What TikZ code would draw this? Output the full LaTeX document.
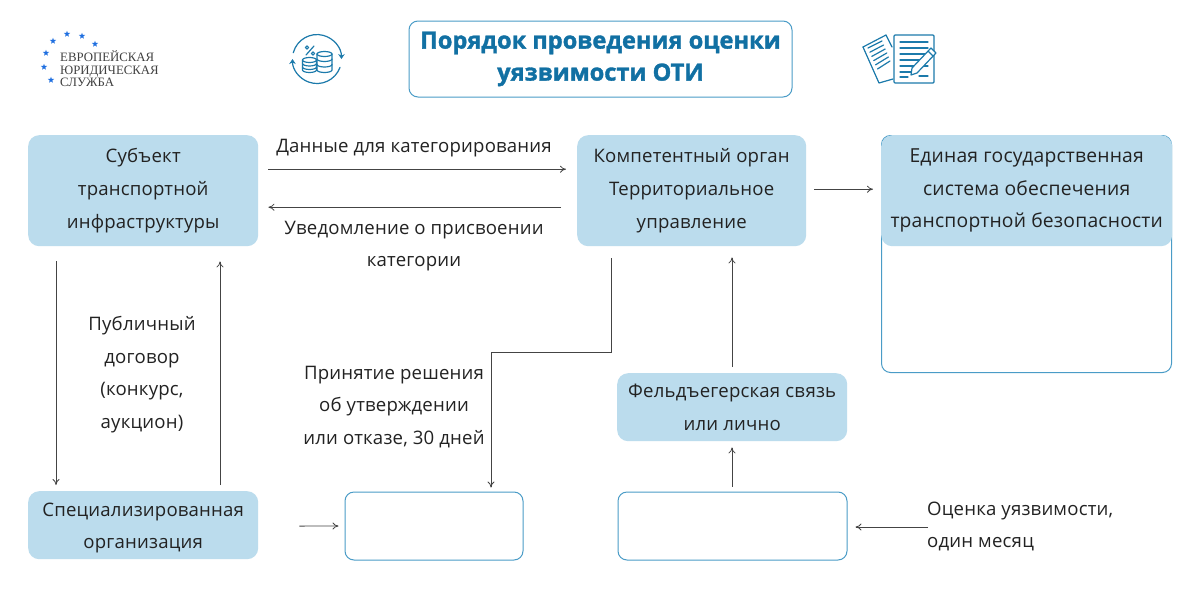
\documentclass[tikz,border=0pt]{standalone}
\usepackage{fontspec}
\setmainfont{Open Sans}[LetterSpace=1]
\newfontfamily\logofont{Liberation Serif}
\newfontfamily\titlefont{Open Sans Bold}[FakeBold=1.5]
\usetikzlibrary{shapes.geometric,arrows.meta,calc}
\definecolor{fillblue}{HTML}{BBDCED}
\definecolor{lineblue}{HTML}{4A9CC7}
\definecolor{titleblue}{HTML}{1170A3}
\definecolor{iconblue}{HTML}{1C7AAB}
\definecolor{starblue}{HTML}{1F6FE0}
\definecolor{txt}{HTML}{222222}
\definecolor{arr}{HTML}{444444}
\tikzset{
  x=1pt,y=-1pt,
  every node/.style={font=\fontsize{18.6}{32.6}\selectfont,text=txt,align=center,inner sep=0pt},
  filled/.style={fill=fillblue,draw=none,rounded corners=11pt,anchor=north west},
  outlined/.style={draw=lineblue,line width=1pt,fill=white,rounded corners=9pt,anchor=north west},
  conn/.style={draw=arr,line width=0.8pt,-{To[length=6pt,width=7pt]}},
  icon/.style={draw=iconblue,line width=1.2pt,line cap=round,line join=round},
  logostar/.style={star,star points=5,star point ratio=2.4,fill=starblue,minimum size=6.5pt,inner sep=0pt,draw=none},
  titlestyle/.style={font=\titlefont\fontsize{23.6}{32}\selectfont,text=titleblue},
  logostyle/.style={font=\logofont\fontsize{12.8}{12.5}\selectfont,text=black!75,align=left,anchor=north west},
  widetext/.style={font=\fontsize{19.3}{32.6}\selectfont},
}
\begin{document}
\begin{tikzpicture}
\useasboundingbox (0,0) rectangle (1200,600);
\fill[white] (0,0) rectangle (1200,600);

% outline behind the top-right box
\node[outlined,minimum width=290pt,minimum height=237pt] (ebig) at (881,135) {};
\node[filled,widetext,minimum width=291pt,minimum height=111pt] (e) at (881,135) {Единая государственная\\система обеспечения\\транспортной безопасности};

\node[outlined,titlestyle,minimum width=383pt,minimum height=76pt] (title) at (408.5,20.5)
 {Порядок проведения оценки\\уязвимости ОТИ};

\node[filled,minimum width=230pt,minimum height=111pt] (s) at (28,135) {Субъект\\транспортной\\инфраструктуры};
\node[filled,minimum width=229pt,minimum height=111pt] (k) at (577,135) {Компетентный орган\\Территориальное\\управление};
\node[filled,minimum width=230pt,minimum height=68pt] (f) at (617,373) {Фельдъегерская связь\\или лично};
\node[filled,minimum width=230pt,minimum height=68pt] (o) at (28,491) {\rule{0pt}{19pt}Специализированная\\организация};
\node[outlined,minimum width=178pt,minimum height=68pt] (b1) at (344.5,491.5) {};
\node[outlined,minimum width=229pt,minimum height=68pt] (b2) at (617.5,491.5) {};

% labels
\node (l1) at (414,148) {Данные для категорирования};
\node (l2) at (414,246) {Уведомление о присвоении\\категории};
\node (l3) at (142,374.5) {Публичный\\договор\\(конкурс,\\аукцион)};
\node (l4) at (394,407) {Принятие решения\\об утверждении\\или отказе, 30 дней};
\node[align=left,anchor=west] (l5) at (927,526.5) {Оценка уязвимости,\\один месяц};

% connectors
\draw[conn,shorten <=10pt,shorten >=11pt] ([yshift=21.5pt]s.east) -- ([yshift=21.5pt]k.west);
\draw[conn,shorten <=16pt,shorten >=10pt] ([yshift=-16.5pt]k.west) -- ([yshift=-16.5pt]s.east);
\draw[conn,shorten <=8pt,shorten >=8pt] ([yshift=1.5pt]k.east) -- ([yshift=1.5pt]e.west);
\draw[conn,shorten <=15pt,shorten >=6pt] (s.south -| 56,0) -- (o.north -| 56,0);
\draw[conn,shorten <=6pt,shorten >=15pt] (o.north -| 220,0) -- (s.south -| 220,0);
\draw[conn,shorten <=41pt,shorten >=6pt] ([yshift=-1pt]o.east) -- (b1.west);
\draw[conn,shorten >=4pt] ([xshift=34pt,yshift=-12pt]k.south west) -- ++(0,94) -| (b1.north -| 491,0);
\draw[conn,shorten <=6pt,shorten >=11pt] (f.north -| 732,0) -- (k.south -| 732,0);
\draw[conn,shorten <=5pt,shorten >=6pt] (b2.north -| 732,0) -- (f.south -| 732,0);
\coordinate (evalstart) at (928,527);
\draw[conn,shorten >=8pt] (evalstart) -- (b2.east |- evalstart);

% logo
\node[logostar] (st1) at (53,41) {};
\node[logostar] (st2) at (67,34) {};
\node[logostar] (st3) at (82,36) {};
\node[logostar] (st4) at (95,44) {};
\node[logostar] (st5) at (46,53) {};
\node[logostar] (st6) at (44,67) {};
\node[logostar] (st7) at (51,80) {};
\node[logostyle] (logo) at (60,50.5) {ЕВРОПЕЙСКАЯ\\ЮРИДИЧЕСКАЯ\\СЛУЖБА};

% coins icon (arc angles run clockwise on screen because y points down)
\begin{scope}[icon]
 \draw[-{Stealth[length=5pt,width=6.5pt]}] (293.3,52.7) arc[start angle=195,end angle=360,radius=24.5];
 \draw[-{Stealth[length=5pt,width=6.5pt]}] (340,67.4) arc[start angle=20,end angle=180,radius=24.5];
 \draw (309.5,60) ellipse[x radius=7,y radius=2.5];
 \draw (302.5,60) -- (302.5,70) arc[start angle=180,end angle=0,x radius=7,y radius=2.5] -- (316.5,60);
 \draw (302.5,63.5) arc[start angle=180,end angle=0,x radius=7,y radius=2.5];
 \draw (302.5,67) arc[start angle=180,end angle=0,x radius=7,y radius=2.5];
 \draw (324.5,54) ellipse[x radius=7.5,y radius=2.5];
 \draw (317,54) -- (317,70) arc[start angle=180,end angle=0,x radius=7.5,y radius=2.5] -- (332,54);
 \draw (317,59) arc[start angle=180,end angle=0,x radius=7.5,y radius=2.5];
 \draw (317,64.5) arc[start angle=180,end angle=0,x radius=7.5,y radius=2.5];
 \draw (306,55) -- (314,46);
 \draw (307,47.5) circle[radius=1.6];
 \draw (313,53.5) circle[radius=1.6];
\end{scope}

% documents icon
\begin{scope}[icon]
 \draw (863,47) -- (886,35) -- (892,47);
 \draw (863,47) -- (879,83) -- (893,79);
 \foreach \t in {0,1,2,3,4,5}{
   \draw ({868+1.9*\t},{48+4.2*\t}) -- ({882+1.6*\t},{41+4*\t});
 }
 \draw[fill=white,rounded corners=1pt] (894,35) rectangle (934,83);
 \foreach \yy in {42,48,54,60,66}{ \draw (900,\yy) -- (928,\yy); }
 \draw (900,72) -- (912,72);
 \draw (919,76) -- (928,76);
 \draw (900,77) -- (908,77);
 \draw[fill=white] (911,75) -- (912,68) -- (931,48) -- (936,53) -- (917,73) -- cycle;
 \draw (928,51) -- (933,56);
\end{scope}
\end{tikzpicture}
\end{document}
